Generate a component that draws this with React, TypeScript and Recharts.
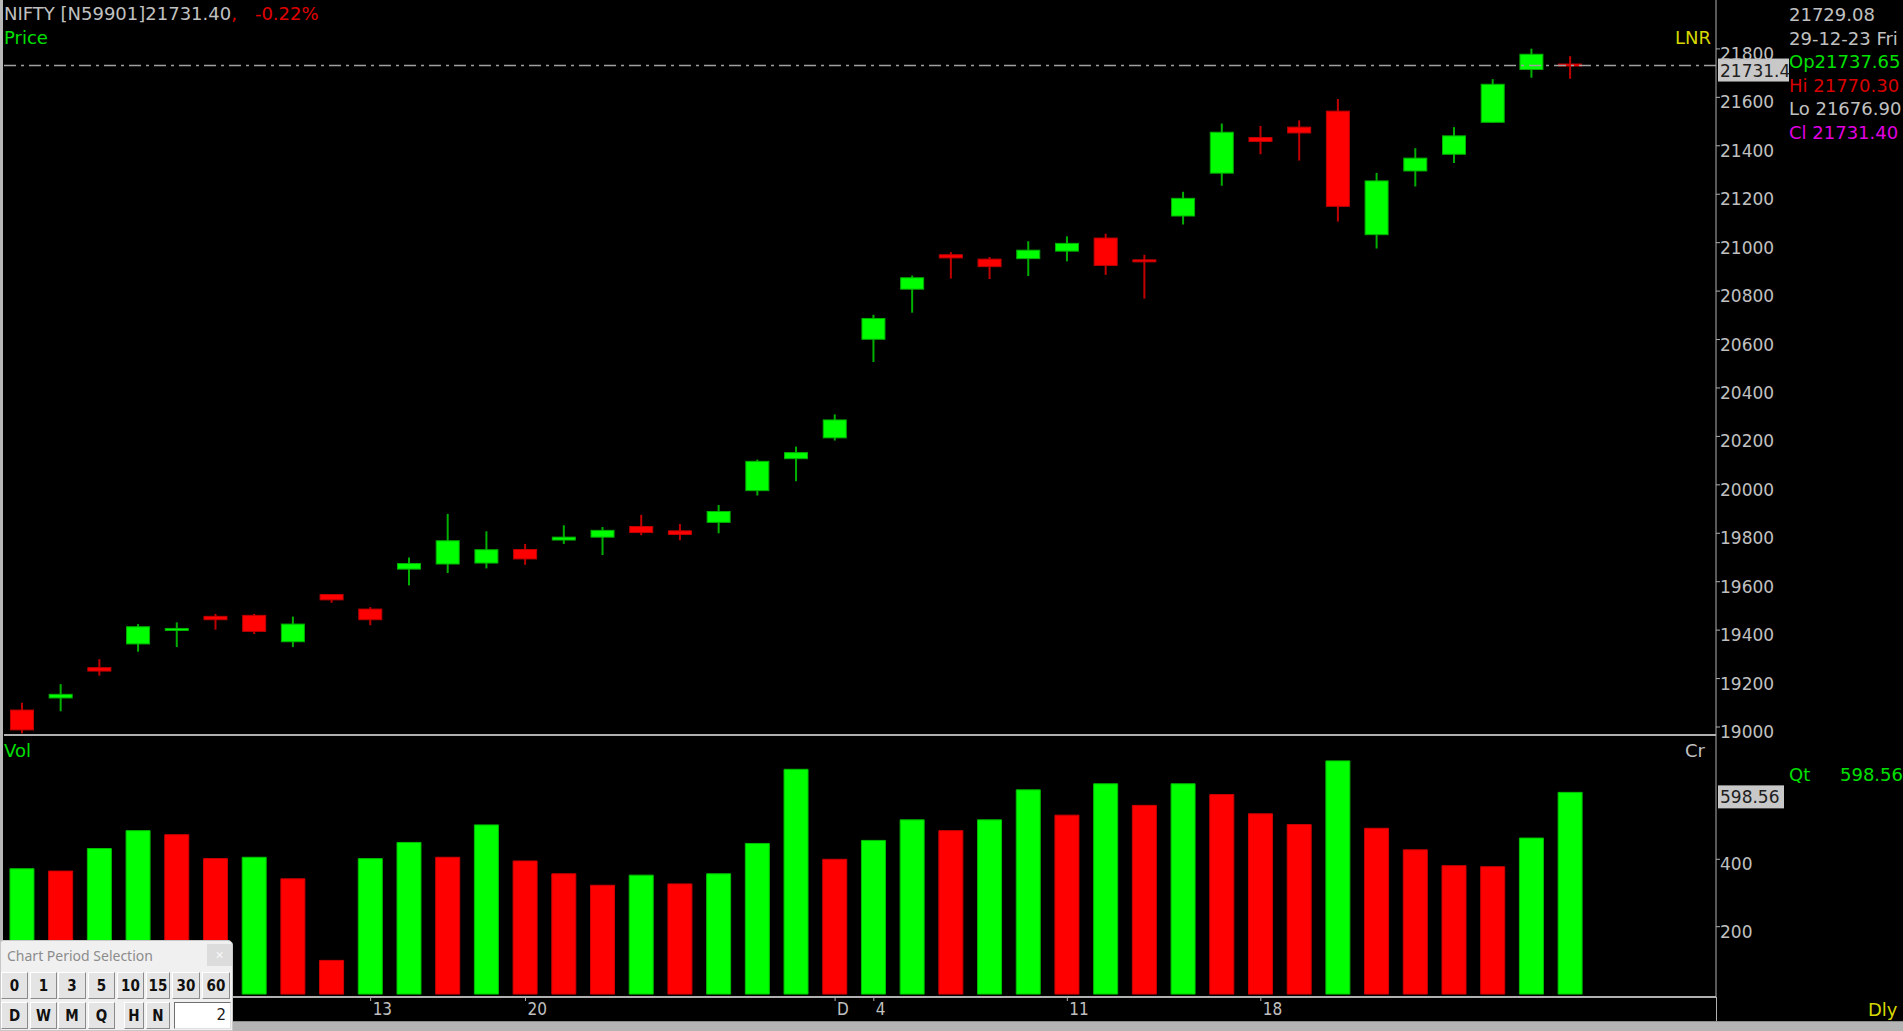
import React from 'react';
import { ComposedChart, Bar, XAxis, YAxis, ReferenceLine, Cell } from 'recharts';

// NIFTY daily, 01-Nov-23 .. 29-Dec-23
const dates = [
  '01-11', '02-11', '03-11', '06-11', '07-11', '08-11', '09-11', '10-11', '12-11', '13-11',
  '15-11', '16-11', '17-11', '20-11', '21-11', '22-11', '23-11', '24-11', '28-11', '29-11',
  '30-11', '01-12', '04-12', '05-12', '06-12', '07-12', '08-12', '11-12', '12-12', '13-12',
  '14-12', '15-12', '18-12', '19-12', '20-12', '21-12', '22-12', '26-12', '27-12', '28-12',
  '29-12',
];
const opens = [
  19070, 19120, 19245, 19343, 19404, 19457, 19461, 19352, 19547, 19487,
  19652, 19673, 19677, 19733, 19772, 19784, 19828, 19810, 19845, 19976,
  20108, 20194, 20601, 20808, 20950, 20932, 20934, 20965, 21019, 20929,
  21110, 21287, 21434, 21477, 21543, 21033, 21296, 21365, 21497, 21715,
  21737.65,
];
const highs = [
  19100, 19177, 19280, 19425, 19432, 19467, 19467, 19456, 19549, 19495,
  19700, 19880, 19808, 19756, 19833, 19826, 19876, 19838, 19917, 20104,
  20158, 20291, 20702, 20864, 20961, 20941, 21006, 21026, 21037, 20950,
  21210, 21492, 21482, 21505, 21593, 21288, 21390, 21477, 21675, 21801,
  21770.3,
];
const lows = [
  18974, 19065, 19212, 19311, 19330, 19402, 19384, 19330, 19513, 19420,
  19585, 19636, 19655, 19670, 19756, 19710, 19792, 19771, 19800, 19956,
  20015, 20183, 20507, 20711, 20852, 20850, 20862, 20923, 20867, 20769,
  21075, 21235, 21365, 21339, 21087, 20976, 21232, 21329, 21495, 21681,
  21676.9,
];
const closes = [
  18988, 19135, 19231, 19414, 19407, 19443, 19395, 19425, 19525, 19443,
  19675, 19769, 19732, 19694, 19784, 19812, 19803, 19795, 19890, 20097,
  20133, 20268, 20687, 20855, 20937, 20901, 20969, 20997, 20906, 20926,
  21183, 21456, 21418, 21453, 21150, 21255, 21349, 21441, 21654, 21778,
  21731.4,
];
// volume in crores
const volumes = [
  372, 365, 432, 485, 473, 402, 406, 342, 100, 402,
  450, 406, 502, 395, 357, 323, 353, 327, 357, 447,
  667, 400, 456, 517, 485, 517, 606, 531, 624, 560,
  624, 592, 535, 503, 692, 492, 428, 381, 378, 463,
  598.56,
];
// 1 = green bar, 0 = red bar
const volumeUp = [
  1, 0, 1, 1, 0, 0, 1, 0, 0, 1,
  1, 0, 1, 0, 0, 0, 1, 0, 1, 1,
  1, 0, 1, 1, 0, 1, 1, 0, 1, 0,
  1, 0, 0, 0, 1, 0, 0, 0, 0, 1,
  1,
];

const priceTicks = [19000, 19200, 19400, 19600, 19800, 20000, 20200, 20400, 20600, 20800, 21000, 21200, 21400, 21600, 21800];
const volumeTicks = [200, 400];
const dateTickIndex = [9, 13, 21, 22, 27, 32];
const dateTickLabels = ['13', '20', 'D', '4', '11', '18'];

const FONT = "'DejaVu Sans', 'Liberation Sans', sans-serif";
const GRAY = '#c0c0c0';
const AXIS = '#b0b0b0';
const GREEN = '#00e000';
const X_DOMAIN = [-0.473, 43.76];

const Candle = (props: any) => {
  const { x, y, width, height, payload } = props;
  const top = Math.min(y, y + height);
  const h = Math.abs(height);
  const { open, close, high, low } = payload;
  const toY = (v: number) => top + ((high - v) / (high - low)) * h;
  const rising = close >= open;
  const bodyTop = toY(Math.max(open, close));
  const bodyBot = toY(Math.min(open, close));
  const cx = x + width / 2;
  const fill = rising ? '#00ff00' : '#ff0000';
  const edge = rising ? '#00b000' : '#c00000';
  return (
    <g>
      <line x1={cx} x2={cx} y1={top} y2={top + h} stroke={edge} strokeWidth={2} />
      <rect x={x + 0.5} y={bodyTop} width={width - 1} height={Math.max(bodyBot - bodyTop, 2)} fill={fill} stroke={edge} strokeWidth={1} />
    </g>
  );
};

const AxisTick = (props: any) => {
  const { x, y, payload } = props;
  return (
    <text x={x} y={y + 11} fill={GRAY} fontSize={17} fontFamily={FONT}>
      {payload.value}
    </text>
  );
};

const DateTick = (props: any) => {
  const { x, y, payload } = props;
  const k = dateTickIndex.indexOf(payload.value);
  return (
    <text x={x + 2} y={y + 14} fill={GRAY} fontSize={17} fontFamily="'DejaVu Sans Condensed', 'DejaVu Sans', sans-serif">
      {k >= 0 ? dateTickLabels[k] : ''}
    </text>
  );
};

const ValueTag = (props: any) => {
  const { viewBox, text, w } = props;
  if (!viewBox) return null;
  const left = viewBox.x + viewBox.width + 2;
  return (
    <g>
      <rect x={left} y={viewBox.y - 7} width={w} height={23} fill="#c8c8c8" />
      <text x={left + 2} y={viewBox.y + 11} fill="#202020" fontSize={17} fontFamily={FONT}>
        {text}
      </text>
    </g>
  );
};

const row1 = [
  { t: '0', l: 1, w: 27 }, { t: '1', l: 30, w: 27 }, { t: '3', l: 58, w: 28 }, { t: '5', l: 88, w: 27 },
  { t: '10', l: 117, w: 27 }, { t: '15', l: 146, w: 24 }, { t: '30', l: 172, w: 28 }, { t: '60', l: 202, w: 28 },
];
const row2 = [
  { t: 'D', l: 1, w: 27 }, { t: 'W', l: 30, w: 27 }, { t: 'M', l: 58, w: 28 }, { t: 'Q', l: 88, w: 27 },
  { t: 'H', l: 124, w: 20 }, { t: 'N', l: 146, w: 24 },
];

const btnStyle = (l: number, w: number, top: number): React.CSSProperties => ({
  position: 'absolute', left: l, top, width: w, height: 27, boxSizing: 'border-box',
  background: '#e4e4e4', borderTop: '1px solid #ffffff', borderLeft: '1px solid #ffffff',
  borderRight: '1px solid #8a8a8a', borderBottom: '1px solid #8a8a8a',
  font: "bold 15px 'DejaVu Sans Condensed', 'DejaVu Sans', sans-serif", color: '#101010',
  display: 'flex', alignItems: 'center', justifyContent: 'center',
});

export default function App() {
  const rows = dates.map((d, i) => ({
    idx: i,
    date: d,
    open: opens[i],
    high: highs[i],
    low: lows[i],
    close: closes[i],
    range: [lows[i], highs[i]],
    vol: volumes[i],
    up: volumeUp[i],
  }));
  const last = rows[rows.length - 1];

  return (
    <div style={{ position: 'absolute', left: 0, top: 0, width: 1903, height: 1031, background: '#000', overflow: 'hidden', fontFamily: FONT }}>
      <div style={{ position: 'absolute', left: 0, top: 735 }}>
        <ComposedChart width={1903} height={286} data={rows} margin={{ top: 0, right: 0, bottom: 0, left: 4 }}>
          <XAxis
            type="number"
            dataKey="idx"
            domain={X_DOMAIN}
            allowDataOverflow
            ticks={dateTickIndex}
            interval={0}
            height={24}
            axisLine={{ stroke: AXIS, strokeWidth: 2 }}
            tickLine={{ stroke: AXIS }}
            tickSize={4}
            tickMargin={0}
            tick={<DateTick />}
          />
          <YAxis
            orientation="right"
            width={187}
            domain={[-8.6, 768.8]}
            ticks={volumeTicks}
            interval={0}
            allowDataOverflow
            axisLine={{ stroke: AXIS }}
            tickLine={{ stroke: AXIS }}
            tickSize={4}
            tickMargin={0}
            tick={<AxisTick />}
          />
          <Bar dataKey="vol" barSize={24} isAnimationActive={false}>
            {rows.map((r) => (
              <Cell key={r.idx} fill={r.up ? '#00ff00' : '#ff0000'} stroke={r.up ? '#00c000' : '#d00000'} strokeWidth={1} />
            ))}
          </Bar>
          <ReferenceLine y={last.vol} stroke="none" strokeOpacity={0} label={<ValueTag text="598.56" w={66} />} />
        </ComposedChart>
      </div>

      <div style={{ position: 'absolute', left: 0, top: 0 }}>
        <ComposedChart width={1903} height={748} data={rows} margin={{ top: 0, right: 0, bottom: 13, left: 4 }}>
          <XAxis type="number" dataKey="idx" domain={X_DOMAIN} hide allowDataOverflow />
          <YAxis
            orientation="right"
            width={187}
            domain={[18967, 22002]}
            ticks={priceTicks}
            interval={0}
            allowDataOverflow
            axisLine={{ stroke: AXIS }}
            tickLine={{ stroke: AXIS }}
            tickSize={4}
            tickMargin={0}
            tick={<AxisTick />}
          />
          <Bar dataKey="range" barSize={24} isAnimationActive={false} shape={(p: any) => <Candle {...p} />} />
          <ReferenceLine
            y={last.close}
            stroke="#a0a0a0"
            strokeWidth={1.5}
            strokeDasharray="12 5 3 5"
            label={<ValueTag text="21731.4" w={71} />}
          />
        </ComposedChart>
      </div>

      {/* frame lines */}
      <div style={{ position: 'absolute', left: 4, top: 734, width: 1712, height: 2, background: AXIS }} />
      <div style={{ position: 'absolute', left: 1716, top: 997, width: 1, height: 24, background: AXIS }} />
      <div style={{ position: 'absolute', left: 0, top: 0, width: 3, height: 1021, background: '#b8b8b8' }} />
      <div style={{ position: 'absolute', left: 0, top: 1021, width: 1903, height: 10, background: '#b4b4b4', borderTop: '1px solid #8c8c8c', boxSizing: 'border-box' }} />

      <svg width={1903} height={1031} style={{ position: 'absolute', left: 0, top: 0, pointerEvents: 'none' }} fontFamily={FONT}>
        <text x={4} y={20} fontSize={18} fill={GRAY}>
          NIFTY [N59901]21731.40<tspan fill="#e00000">,</tspan>
          <tspan fill="#e00000" dx={18}>-0.22%</tspan>
        </text>
        <text x={4} y={44} fontSize={18} fill={GREEN}>Price</text>
        <text x={1711} y={44} fontSize={18} fill="#d8d800" textAnchor="end">LNR</text>
        <text x={4} y={757} fontSize={18} fill={GREEN}>Vol</text>
        <text x={1705} y={757} fontSize={18} fill={GRAY} textAnchor="end">Cr</text>

        <text x={1789} y={21} fontSize={18} fill={GRAY}>21729.08</text>
        <text x={1789} y={45} fontSize={18} fill={GRAY}>29-12-23 Fri</text>
        <text x={1789} y={68} fontSize={18} fill={GREEN}>Op21737.65</text>
        <text x={1789} y={92} fontSize={18} fill="#d80000">Hi 21770.30</text>
        <text x={1789} y={115} fontSize={18} fill={GRAY}>Lo 21676.90</text>
        <text x={1789} y={139} fontSize={18} fill="#e000e0">Cl 21731.40</text>

        <text x={1789} y={781} fontSize={18} fill={GREEN}>Qt</text>
        <text x={1840} y={781} fontSize={18} fill={GREEN}>598.56</text>
        <text x={1868} y={1016} fontSize={18} fill="#d8d800">Dly</text>
      </svg>

      {/* Chart Period Selection panel */}
      <div style={{ position: 'absolute', left: 0, top: 940, width: 233, height: 91, background: '#f0f0f0', border: '1px solid #c8c8c8', borderTopRightRadius: 5, borderTopLeftRadius: 3, boxSizing: 'border-box' }}>
        <div style={{ position: 'absolute', left: 6, top: 5, font: "14px 'Noto Sans', 'DejaVu Sans', sans-serif", color: '#8c8c8c', whiteSpace: 'nowrap' }}>
          Chart Period Selection
        </div>
        <div style={{ position: 'absolute', left: 206, top: 3, width: 25, height: 22, background: '#dcdcdc', color: '#f8f8f8', font: '14px sans-serif', display: 'flex', alignItems: 'center', justifyContent: 'center' }}>
          ×
        </div>
        {row1.map((b) => (
          <div key={b.t} style={btnStyle(b.l - 1, b.w, 31)}>{b.t}</div>
        ))}
        {row2.map((b) => (
          <div key={b.t} style={btnStyle(b.l - 1, b.w, 61)}>{b.t}</div>
        ))}
        <div style={{ position: 'absolute', left: 173, top: 61, width: 57, height: 27, boxSizing: 'border-box', background: '#ffffff', borderTop: '1px solid #707070', borderLeft: '1px solid #707070', borderRight: '1px solid #e0e0e0', borderBottom: '1px solid #e0e0e0', font: "15px 'DejaVu Sans', sans-serif", color: '#202020', textAlign: 'right', paddingRight: 4, lineHeight: '24px' }}>
          2
        </div>
      </div>
    </div>
  );
}
